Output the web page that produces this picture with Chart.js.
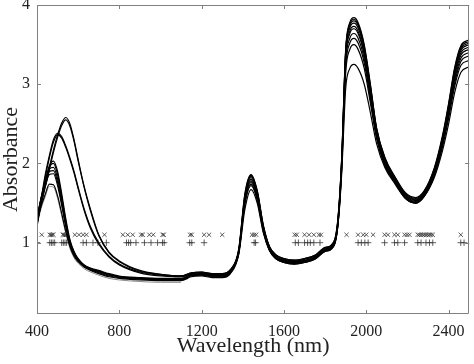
<!DOCTYPE html>
<html>
<head>
<meta charset="utf-8">
<script src="https://cdn.jsdelivr.net/npm/chart.js@4.4.1/dist/chart.umd.min.js"></script>
<style>
html,body{margin:0;padding:0;background:#fff;}
#wrap{width:474px;height:364px;position:relative;}
</style>
</head>
<body>
<div id="wrap"><canvas id="c" width="474" height="364"></canvas></div>
<script>
// Wavelength grid (nm)
const wavelengths = [400,420,440,460,480,500,520,540,560,580,600,630,660,700,750,800,900,1000,
  1100,1150,1200,1250,1300,1340,1380,1410,1440,1470,1500,1530,1560,1600,1650,1700,1750,1800,1830,1860,
  1880,1900,1920,1940,1960,1990,2020,2050,2090,2140,2190,2240,2280,2330,2370,2400,2430,2460,2500];

// Absorbance spectra
const spec1 = [1.28,1.5,1.72,1.95,2.17,2.36,2.51,2.58,2.5,2.3,2.05,1.7,1.42,1.1,0.88,0.77,0.65,0.6,
  0.58,0.62,0.63,0.61,0.61,0.66,0.92,1.62,1.86,1.66,1.22,0.95,0.85,0.8,0.78,0.8,0.84,0.94,0.97,1.25,
  2.05,3.45,3.78,3.84,3.78,3.5,3.0,2.45,2.08,1.83,1.63,1.57,1.65,1.94,2.35,2.76,3.22,3.49,3.56];
const spec2 = [1.25,1.48,1.7,1.92,2.14,2.33,2.48,2.55,2.47,2.28,2.03,1.69,1.4,1.09,0.87,0.76,0.64,0.6,
  0.58,0.62,0.63,0.61,0.61,0.66,0.91,1.6,1.85,1.65,1.21,0.95,0.85,0.8,0.78,0.8,0.84,0.94,0.97,1.24,
  2.03,3.43,3.76,3.82,3.76,3.48,2.98,2.44,2.07,1.82,1.62,1.56,1.64,1.93,2.33,2.74,3.2,3.47,3.54];
const spec3 = [1.22,1.55,1.86,2.1,2.3,2.38,2.34,2.22,2.07,1.9,1.7,1.42,1.2,1.0,0.83,0.73,0.63,0.59,
  0.57,0.61,0.62,0.6,0.6,0.65,0.9,1.58,1.84,1.64,1.2,0.94,0.84,0.79,0.77,0.79,0.83,0.93,0.96,1.23,
  2.02,3.42,3.74,3.8,3.74,3.46,2.96,2.43,2.06,1.81,1.61,1.55,1.63,1.92,2.32,2.72,3.18,3.45,3.52];
const spec4 = [1.2,1.52,1.82,2.07,2.27,2.36,2.32,2.2,2.05,1.88,1.68,1.4,1.18,0.98,0.82,0.72,0.62,0.58,
  0.57,0.61,0.62,0.6,0.6,0.65,0.85,1.42,1.67,1.5,1.12,0.9,0.8,0.75,0.74,0.76,0.8,0.9,0.93,1.17,
  1.85,2.95,3.2,3.25,3.2,3.0,2.64,2.25,1.95,1.74,1.56,1.5,1.58,1.82,2.16,2.5,2.9,3.15,3.22];
const spec5 = [1.3,1.57,1.78,1.97,2.03,1.9,1.62,1.3,1.04,0.89,0.8,0.72,0.68,0.65,0.61,0.58,0.56,0.55,
  0.55,0.6,0.61,0.59,0.59,0.64,0.89,1.57,1.82,1.62,1.19,0.93,0.83,0.78,0.76,0.78,0.82,0.92,0.95,1.22,
  2.0,3.4,3.71,3.77,3.71,3.44,2.94,2.42,2.05,1.8,1.6,1.54,1.62,1.9,2.3,2.7,3.16,3.43,3.5];
const spec6 = [1.28,1.55,1.76,1.95,2.0,1.86,1.58,1.27,1.02,0.88,0.79,0.71,0.67,0.64,0.6,0.57,0.55,0.54,
  0.54,0.59,0.6,0.58,0.58,0.63,0.88,1.55,1.8,1.6,1.18,0.92,0.82,0.77,0.75,0.77,0.81,0.91,0.94,1.2,
  1.98,3.36,3.67,3.73,3.67,3.4,2.91,2.4,2.03,1.79,1.59,1.53,1.61,1.89,2.28,2.68,3.13,3.4,3.47];
const spec7 = [1.31,1.56,1.76,1.93,1.95,1.81,1.54,1.25,1.0,0.87,0.79,0.71,0.67,0.64,0.6,0.57,0.55,0.54,
  0.54,0.59,0.6,0.58,0.58,0.63,0.87,1.48,1.72,1.54,1.14,0.9,0.8,0.75,0.73,0.75,0.79,0.89,0.92,1.17,
  1.9,3.15,3.44,3.5,3.44,3.2,2.76,2.31,1.97,1.75,1.56,1.5,1.58,1.84,2.21,2.57,2.98,3.24,3.3];
const spec8 = [1.32,1.56,1.74,1.9,1.91,1.76,1.5,1.22,0.99,0.86,0.78,0.71,0.67,0.63,0.59,0.57,0.55,0.54,
  0.54,0.59,0.6,0.58,0.58,0.63,0.88,1.54,1.78,1.59,1.17,0.92,0.82,0.77,0.75,0.77,0.81,0.91,0.94,1.2,
  1.96,3.33,3.64,3.7,3.64,3.37,2.89,2.38,2.02,1.78,1.58,1.52,1.6,1.88,2.27,2.66,3.1,3.37,3.44];
const spec9 = [1.3,1.53,1.71,1.86,1.87,1.72,1.47,1.2,0.97,0.85,0.77,0.7,0.66,0.62,0.58,0.56,0.54,0.53,
  0.53,0.58,0.59,0.57,0.57,0.62,0.87,1.52,1.76,1.57,1.16,0.91,0.81,0.76,0.74,0.76,0.8,0.9,0.93,1.19,
  1.94,3.28,3.58,3.64,3.58,3.32,2.85,2.36,2.0,1.77,1.57,1.51,1.59,1.86,2.25,2.63,3.06,3.33,3.4];
const spec10 = [1.25,1.46,1.61,1.74,1.73,1.59,1.37,1.14,0.95,0.83,0.76,0.69,0.65,0.61,0.57,0.55,0.53,0.52,
  0.52,0.57,0.58,0.56,0.56,0.61,0.86,1.5,1.74,1.55,1.15,0.9,0.8,0.75,0.73,0.75,0.79,0.89,0.92,1.18,
  1.92,3.22,3.52,3.58,3.52,3.27,2.81,2.34,1.99,1.76,1.56,1.5,1.58,1.85,2.23,2.6,3.02,3.29,3.36];
// grey spectrum that stops at 1100 nm
const spec11 = [1.22,1.43,1.58,1.71,1.7,1.56,1.34,1.12,0.93,0.81,0.74,0.67,0.63,0.59,0.55,0.53,0.51,0.5,
  0.5,null,null,null,null,null,null,null,null,null,null,null,null,null,null,null,null,null,null,null,
  null,null,null,null,null,null,null,null,null,null,null,null,null,null,null,null,null,null,null];

// Selected wavelengths (markers)
const crossWl = [423,462,468,474,480,525,530,536,542,584,604,624,640,728,817,841,865,906,914,946,965,
  1010,1016,1144,1152,1212,1236,1300,1445,1455,1465,1652,1662,1700,1722,1745,1770,1780,1904,
  1960,1985,2000,2033,2089,2105,2137,2153,2186,2198,2210,2250,2258,2266,2274,2282,2290,2298,2306,2314,2323,2459];
const plusWl = [400,462,470,478,486,520,528,536,544,624,640,672,696,737,835,845,855,881,922,954,986,
  1010,1018,1142,1152,1212,1455,1462,1655,1670,1700,1715,1728,1745,1775,1960,1976,1993,2009,2089,
  2137,2153,2186,2250,2266,2290,2307,2323,2459,2475];
const crossLevel = 1.1;
const plusLevel = 1.0;

const xTicks = [400,800,1200,1600,2000,2400];
const yTicks = [1,2,3,4];

const spectra = [spec1,spec2,spec3,spec4,spec5,spec6,spec7,spec8,spec9,spec10];
const datasets = [];
spectra.forEach(s => {
  datasets.push({
    type:'line',
    data: wavelengths.map((w,i)=>({x:w,y:s[i]})),
    borderColor:'#000', borderWidth:1.2, pointRadius:0, fill:false,
    cubicInterpolationMode:'monotone'
  });
});
datasets.push({
  type:'line',
  data: wavelengths.map((w,i)=>({x:w,y:spec11[i]})),
  borderColor:'#8a8a8a', borderWidth:1, pointRadius:0, fill:false, spanGaps:false,
  cubicInterpolationMode:'monotone'
});
datasets.push({
  type:'scatter',
  data: crossWl.map(w=>({x:w,y:crossLevel})),
  pointStyle:'crossRot', pointRadius:3, borderColor:'#333', borderWidth:0.8, showLine:false
});
datasets.push({
  type:'scatter',
  data: plusWl.map(w=>({x:w,y:plusLevel})),
  pointStyle:'cross', pointRadius:3.2, borderColor:'#333', borderWidth:0.8, showLine:false
});

const boxPlugin = {
  id:'box',
  afterDraw(chart){
    const {ctx, chartArea:a, scales} = chart;
    ctx.save();
    ctx.strokeStyle = '#808080';
    ctx.lineWidth = 1;
    ctx.beginPath();
    ctx.rect(Math.round(a.left)+0.5, Math.round(a.top)+0.5, Math.round(a.right-a.left)-1, Math.round(a.bottom-a.top)-1);
    ctx.stroke();
    ctx.beginPath();
    const tl = 4;
    xTicks.forEach(v=>{
      const x = Math.round(scales.x.getPixelForValue(v))+0.5;
      ctx.moveTo(x,a.bottom); ctx.lineTo(x,a.bottom-tl);
      ctx.moveTo(x,a.top); ctx.lineTo(x,a.top+tl);
    });
    yTicks.forEach(v=>{
      const y = Math.round(scales.y.getPixelForValue(v))+0.5;
      ctx.moveTo(a.left,y); ctx.lineTo(a.left+tl,y);
      ctx.moveTo(a.right,y); ctx.lineTo(a.right-tl,y);
    });
    ctx.stroke();
    ctx.restore();
  }
};

const serif = "'Liberation Serif','Times New Roman',serif";
new Chart(document.getElementById('c'), {
  data:{datasets},
  options:{
    responsive:false, animation:false,
    layout:{padding:{top:5,right:2,left:0,bottom:0}},
    plugins:{legend:{display:false}, tooltip:{enabled:false}},
    elements:{line:{tension:0}},
    scales:{
      x:{
        type:'linear', min:400, max:2500,
        afterBuildTicks:s=>{s.ticks = xTicks.map(v=>({value:v}));},
        afterFit:s=>{s.height = 50; s.paddingLeft = 0; s.paddingRight = 0;},
        grid:{display:false, drawTicks:false},
        border:{display:false},
        ticks:{color:'#222', font:{family:serif, size:16}, padding:8, maxRotation:0, autoSkip:false,
          callback:v=>String(v)},
        title:{display:true, text:'Wavelength (nm)', color:'#222', font:{family:serif, size:22, lineHeight:1.0}, padding:{top:0,bottom:7}}
      },
      y:{
        type:'linear', min:0.1, max:4,
        afterBuildTicks:s=>{s.ticks = yTicks.map(v=>({value:v}));},
        afterFit:s=>{s.width = 37; s.paddingTop = 0; s.paddingBottom = 0;},
        grid:{display:false, drawTicks:false},
        border:{display:false},
        ticks:{color:'#222', font:{family:serif, size:16}, padding:7, callback:v=>String(v)},
        title:{display:true, text:'Absorbance', color:'#222', font:{family:serif, size:22, lineHeight:1.0}, padding:0}
      }
    }
  },
  plugins:[boxPlugin]
});
</script>
</body>
</html>
